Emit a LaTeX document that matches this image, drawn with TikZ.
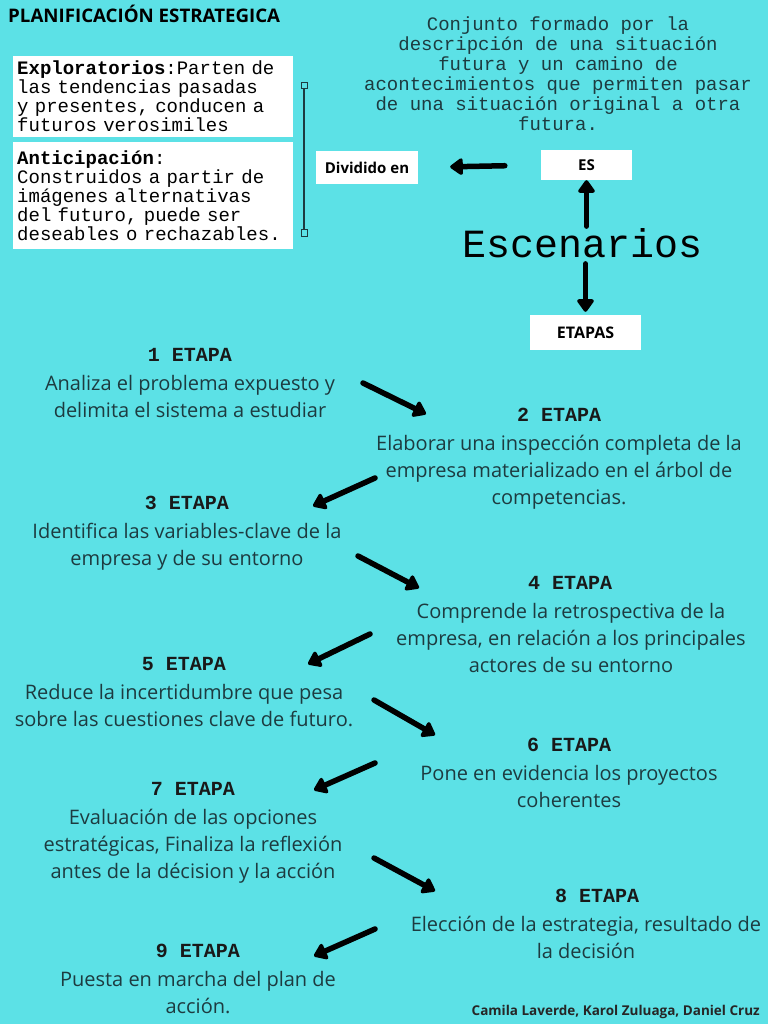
\documentclass[tikz,border=0pt]{standalone}
\usepackage{fontspec}
\setmainfont{Open Sans}
\setmonofont{Liberation Mono}
\usepackage{tikz}
\usetikzlibrary{arrows.meta, positioning}
\usepackage{xcolor}

\definecolor{bgcyan}{HTML}{5CE1E6}
\definecolor{inkteal}{HTML}{1D3B40}

\begin{document}
\begin{tikzpicture}[
    x=1pt, y=-1pt,
    every node/.style={inner sep=0pt},
    whitebox/.style={rectangle, fill=white, align=center, font=\bfseries\fontsize{15}{17}\selectfont},
    leftbox/.style={rectangle, fill=white, anchor=north west, align=left, inner sep=4pt, font=\ttfamily\fontsize{19}{19}\selectfont},
    stagehead/.style={font=\ttfamily\bfseries\fontsize{20}{22}\selectfont, text=black!90},
    stagetext/.style={align=center, font=\fontsize{20}{27}\selectfont, text=inkteal},
    bigarrow/.style={line width=5.5pt, line cap=round, -{Triangle[width=19pt, length=14pt, round]}},
    endsq/.style={rectangle, draw=inkteal, fill=bgcyan, line width=1pt, minimum size=6pt}
  ]

  % background and page size
  \fill[bgcyan] (0,0) rectangle (768,1024);
  \useasboundingbox (0,0) rectangle (768,1024);

  \node[anchor=west, font=\bfseries\fontsize{18.7}{20}\selectfont] (title) at (8,14) {PLANIFICACIÓN ESTRATEGICA};

  % tipos de escenarios
  \node[leftbox, minimum width=280pt, minimum height=81pt, text width=272pt] (explo) at (13,56)
    {\textbf{Exploratorios}:Parten de\\las tendencias pasadas\\y presentes, conducen a\\futuros verosimiles};
  \node[leftbox, minimum width=280pt, minimum height=107pt, text width=272pt] (antic) at (13,142)
    {\textbf{Anticipación}:\\Construidos a partir de\\imágenes alternativas\\del futuro, puede ser\\deseables o rechazables.};

  \node[endsq] (brtop) at (304,86) {};
  \node[endsq] (brbot) at (304,233) {};
  \draw[inkteal, line width=1.2pt] (brtop) -- (brbot);

  \node[align=center, font=\ttfamily\fontsize{19}{20}\selectfont, text=inkteal] (defin) at (558,74)
    {Conjunto formado por la\\descripción de una situación\\futura y un camino de\\acontecimientos que permiten pasar\\de una situación original a otra\\futura.};

  \node[whitebox, minimum width=102pt, minimum height=33pt] (div) at (367,167.5) {Dividido en};
  \node[whitebox, minimum width=91pt, minimum height=30pt] (es) at (586.5,165) {ES};
  \node[font=\ttfamily\fontsize{40}{44}\selectfont] (escen) at (583,243) {Escenarios};
  \node[whitebox, minimum width=111pt, minimum height=35pt, font=\bfseries\fontsize{16}{18}\selectfont] (etapas) at (585.5,332.5) {ETAPAS};

  \draw[bigarrow, shorten <=36pt, shorten >=32pt] (es.west) -- (div.east);
  \draw[bigarrow, shorten <=2pt] (escen.north -| es) -- (es.south);
  \draw[bigarrow, shorten <=6pt, shorten >=3pt] (escen.south -| etapas) -- (etapas.north);

  % etapas
  \node[stagehead] (h1) at (190,355) {1 ETAPA};
  \node[stagetext, below=13pt of h1] (t1) {Analiza el problema expuesto y\\delimita el sistema a estudiar};
  \node[stagehead] (h2) at (559,415) {2 ETAPA};
  \node[stagetext, below=13pt of h2] (t2) {Elaborar una inspección completa de la\\empresa materializado en el árbol de\\competencias.};
  \node[stagehead] (h3) at (187,503) {3 ETAPA};
  \node[stagetext, below=13pt of h3] (t3) {Identifica las variables-clave de la\\empresa y de su entorno};
  \node[stagehead] (h4) at (570,583) {4 ETAPA};
  \node[stagetext, below=13pt of h4, xshift=1pt] (t4) {Comprende la retrospectiva de la\\empresa, en relación a los principales\\actores de su entorno};
  \node[stagehead] (h5) at (184,664) {5 ETAPA};
  \node[stagetext, below=13pt of h5] (t5) {Reduce la incertidumbre que pesa\\sobre las cuestiones clave de futuro.};
  \node[stagehead] (h6) at (569,745) {6 ETAPA};
  \node[stagetext, below=13pt of h6] (t6) {Pone en evidencia los proyectos\\coherentes};
  \node[stagehead] (h7) at (193,789) {7 ETAPA};
  \node[stagetext, below=13pt of h7] (t7) {Evaluación de las opciones\\estratégicas, Finaliza la reflexión\\antes de la décision y la acción};
  \node[stagehead] (h8) at (597,896) {8 ETAPA};
  \node[stagetext, below=13pt of h8, xshift=-11pt] (t8) {Elección de la estrategia, resultado de\\la decisión};
  \node[stagehead] (h9) at (198,951) {9 ETAPA};
  \node[stagetext, below=13pt of h9] (t9) {Puesta en marcha del plan de\\acción.};

  % flechas entre etapas
  \coordinate (a1s) at (363,383); \coordinate (a1e) at (426,414);
  \coordinate (a2s) at (375,478); \coordinate (a2e) at (313,506);
  \coordinate (a3s) at (358,556); \coordinate (a3e) at (419,588);
  \coordinate (a4s) at (370,634); \coordinate (a4e) at (308,664);
  \coordinate (a5s) at (374,700); \coordinate (a5e) at (435,735);
  \coordinate (a6s) at (375,763); \coordinate (a6e) at (314,790);
  \coordinate (a7s) at (374,858); \coordinate (a7e) at (435,891);
  \coordinate (a8s) at (375,929); \coordinate (a8e) at (314,956);
  \foreach \i in {1,...,8}
    \draw[bigarrow] (a\i s) -- (a\i e);

  \node[anchor=east, font=\bfseries\fontsize{13.5}{15}\selectfont, text=black!85] (autores) at (760,1012) {Camila Laverde, Karol Zuluaga, Daniel Cruz};

  \end{tikzpicture}
\end{document}
